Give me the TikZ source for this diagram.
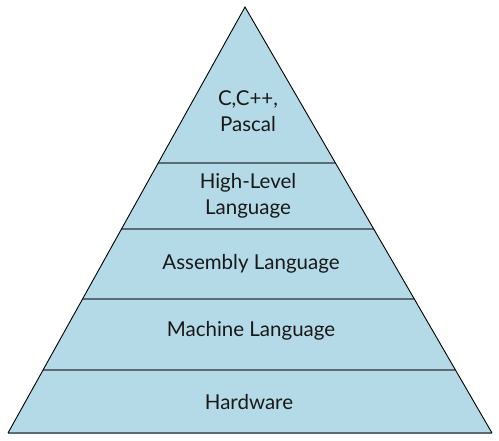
\documentclass[tikz,border=0pt]{standalone}
\usepackage{fontspec}
\setmainfont{Lato}
\usetikzlibrary{calc}
\definecolor{pyrfill}{HTML}{B4D9E7}
\definecolor{bandline}{HTML}{5A6D76}
\begin{document}
\begin{tikzpicture}[x=1pt,y=-1pt,
  lbl/.style={font=\fontsize{20.5}{25.5}\selectfont, align=center, text=black!90},
  band/.style={draw=bandline, line width=1.6pt},
  side/.style={draw=black, line width=0.9pt}]
\useasboundingbox (0,0) rectangle (499,440);
\coordinate (apex) at (245,7);
\coordinate (bl) at (8,433);
\coordinate (br) at (492,433);
\fill[pyrfill] (apex) -- (bl) -- (br) -- cycle;
% horizontal band lines
\foreach \yy in {163,229,299,370}{
  \pgfmathsetmacro{\fr}{(\yy-7)/426}
  \draw[band] ($(apex)!\fr!(bl)$) -- ($(apex)!\fr!(br)$);
}
\draw[band] (bl) -- (br);
\draw[side, line join=miter] (bl) -- (apex) -- (br);
\node[lbl] (t1) at (248,111) {C,C++,\\Pascal};
\node[lbl] (t2) at (248,196) {High-Level\\Language};
\node[lbl] (t3) at (251,264) {Assembly Language};
\node[lbl] (t4) at (251,331) {Machine Language};
\node[lbl] (t5) at (249,402) {Hardware};
\end{tikzpicture}
\end{document}
